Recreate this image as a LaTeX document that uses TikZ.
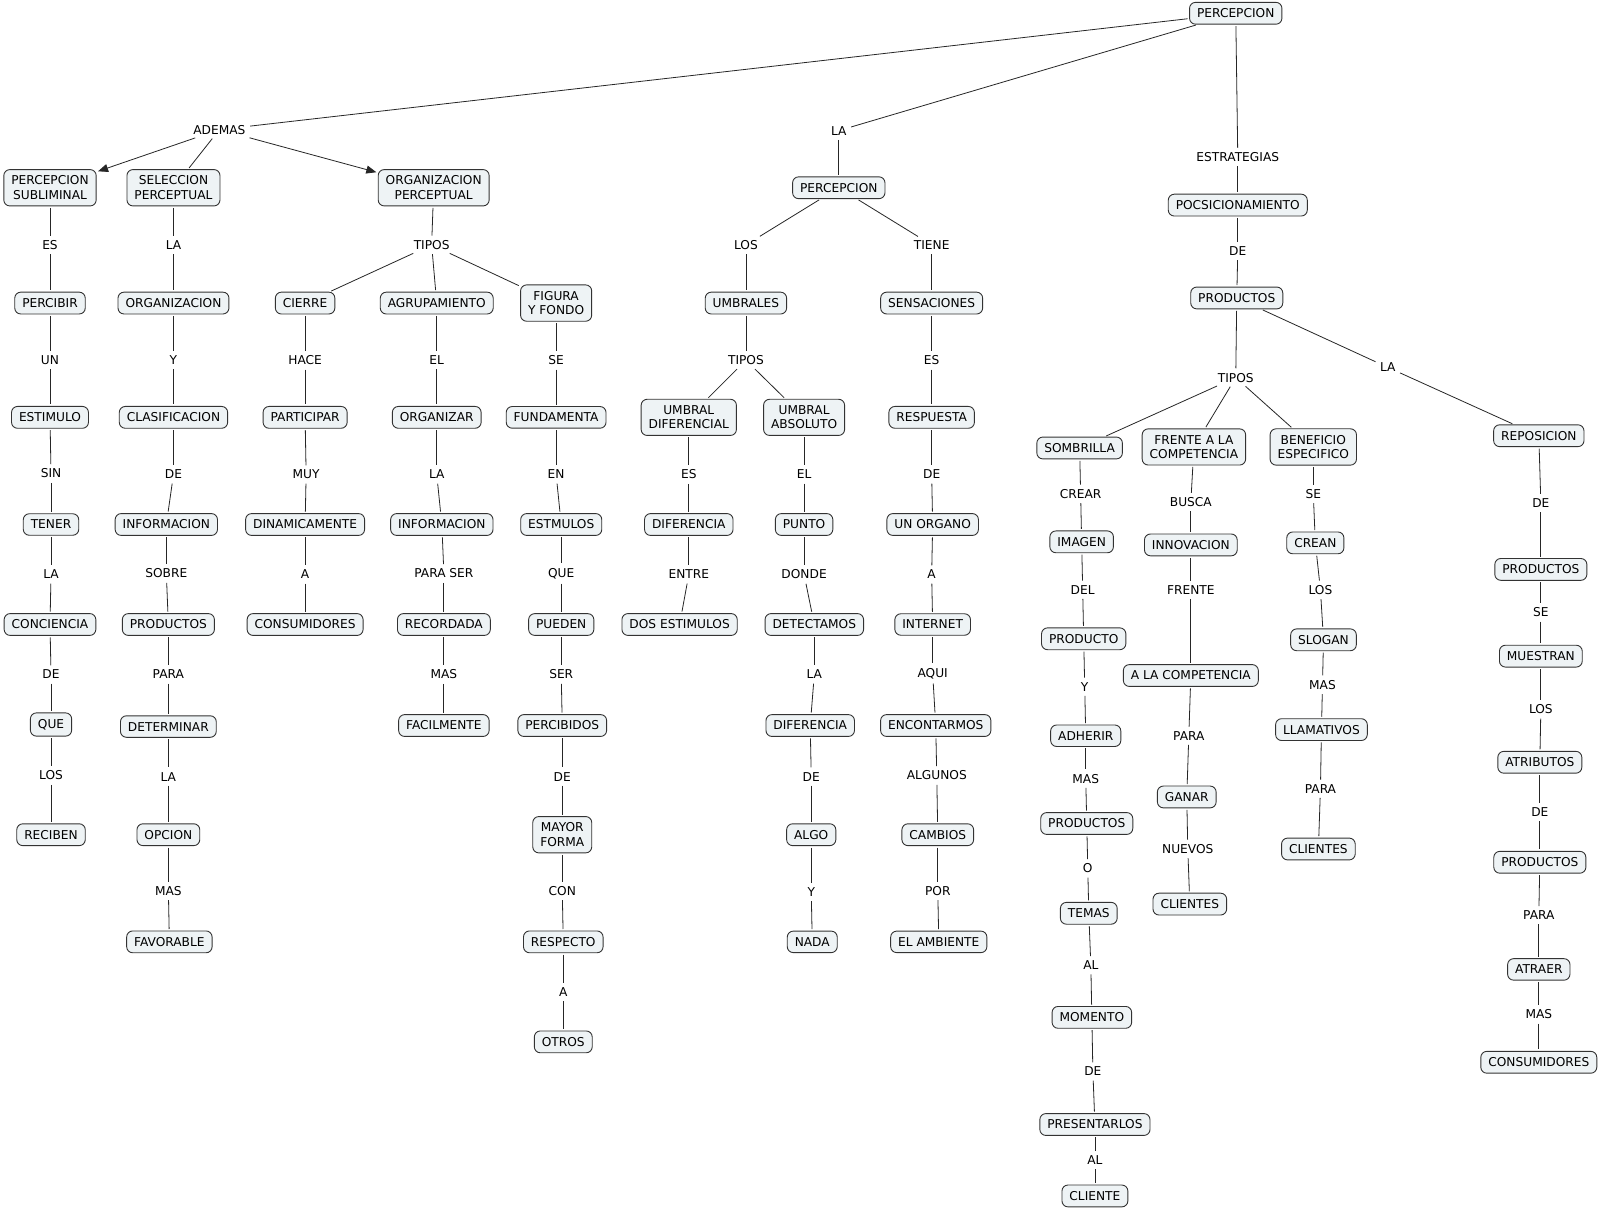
\documentclass[tikz,border=0pt]{standalone}
\usepackage{fontspec}
\setmainfont{DejaVu Sans}
\usetikzlibrary{arrows.meta}
\begin{document}
\begin{tikzpicture}[x=1.0204pt,y=-1.0204pt,
  every node/.style={font=\fontsize{12.2}{14.5}\selectfont,align=center},
  cpt/.style={draw=black!80,line width=0.9pt,fill={rgb,255:red,238;green,243;blue,245},rounded corners=6pt,inner xsep=7.5pt,inner ysep=6.3pt},
  lnk/.style={inner sep=3pt},
  ln/.style={draw=black!85,line width=0.8pt,shorten <=1.5pt,shorten >=1.5pt},
  arr/.style={ln,-{Triangle[length=10pt,width=8pt]}}]
\newcommand\Cn[4]{\node[cpt] (#1) at (#2,#3) {#4};}
\newcommand\Ln[4]{\node[lnk] (#1) at (#2,#3) {#4};}
\useasboundingbox[fill=white] (0,0) rectangle (1567,1185);
% top
\Cn{P0}{1211}{13}{PERCEPCION}
\Ln{ademas}{215}{127}{ADEMAS}
\Ln{la0}{822}{128}{LA}
\Ln{estr}{1213}{154}{ESTRATEGIAS}
\Cn{a0}{49}{184}{PERCEPCION\\SUBLIMINAL}
\Cn{b0}{170}{184}{SELECCION\\PERCEPTUAL}
\Cn{o0}{425}{184}{ORGANIZACION\\PERCEPTUAL}
\Cn{P2}{822}{184}{PERCEPCION}
\Cn{POCS}{1213}{201}{POCSICIONAMIENTO}
\Ln{deP}{1213}{246}{DE}
\Cn{PROD}{1212}{292}{PRODUCTOS}
% column a
\Ln{a1}{49}{240}{ES}
\Cn{a2}{49}{297}{PERCIBIR}
\Ln{a3}{49}{353}{UN}
\Cn{a4}{49}{409}{ESTIMULO}
\Ln{a5}{50}{464}{SIN}
\Cn{a6}{50}{514}{TENER}
\Ln{a7}{50}{563}{LA}
\Cn{a8}{49}{612}{CONCIENCIA}
\Ln{a9}{50}{661}{DE}
\Cn{a10}{50}{710}{QUE}
\Ln{a11}{50}{760}{LOS}
\Cn{a12}{50}{818}{RECIBEN}
% column b
\Ln{b1}{170}{240}{LA}
\Cn{b2}{170}{297}{ORGANIZACION}
\Ln{b3}{170}{353}{Y}
\Cn{b4}{170}{409}{CLASIFICACION}
\Ln{b5}{170}{465}{DE}
\Cn{b6}{163}{514}{INFORMACION}
\Ln{b7}{163}{562}{SOBRE}
\Cn{b8}{165}{612}{PRODUCTOS}
\Ln{b9}{165}{661}{PARA}
\Cn{b10}{165}{712}{DETERMINAR}
\Ln{b11}{165}{761}{LA}
\Cn{b12}{165}{818}{OPCION}
\Ln{b13}{165}{873}{MAS}
\Cn{b14}{166}{923}{FAVORABLE}
% OP
\Ln{ot}{423}{240}{TIPOS}
\Cn{c0}{299}{297}{CIERRE}
\Ln{c1}{299}{353}{HACE}
\Cn{c2}{299}{409}{PARTICIPAR}
\Ln{c3}{300}{465}{MUY}
\Cn{c4}{299}{514}{DINAMICAMENTE}
\Ln{c5}{299}{563}{A}
\Cn{c6}{299}{612}{CONSUMIDORES}
\Cn{d0}{428}{297}{AGRUPAMIENTO}
\Ln{d1}{428}{353}{EL}
\Cn{d2}{428}{409}{ORGANIZAR}
\Ln{d3}{428}{465}{LA}
\Cn{d4}{433}{514}{INFORMACION}
\Ln{d5}{435}{562}{PARA SER}
\Cn{d6}{435}{612}{RECORDADA}
\Ln{d7}{435}{661}{MAS}
\Cn{d8}{435}{711}{FACILMENTE}
\Cn{e0}{545}{297}{FIGURA\\Y FONDO}
\Ln{e1}{545}{353}{SE}
\Cn{e2}{545}{409}{FUNDAMENTA}
\Ln{e3}{545}{465}{EN}
\Cn{e4}{550}{514}{ESTMULOS}
\Ln{e5}{550}{562}{QUE}
\Cn{e6}{550}{612}{PUEDEN}
\Ln{e7}{550}{661}{SER}
\Cn{e8}{551}{711}{PERCIBIDOS}
\Ln{e9}{551}{761}{DE}
\Cn{e10}{551}{818}{MAYOR\\FORMA}
\Ln{e11}{551}{873}{CON}
\Cn{e12}{552}{923}{RESPECTO}
\Ln{e13}{552}{972}{A}
\Cn{e14}{552}{1021}{OTROS}
% P2
\Ln{fL}{731}{240}{LOS}
\Cn{f0}{731}{297}{UMBRALES}
\Ln{fT}{731}{353}{TIPOS}
\Cn{g0}{675}{409}{UMBRAL\\DIFERENCIAL}
\Ln{g1}{675}{465}{ES}
\Cn{g2}{675}{514}{DIFERENCIA}
\Ln{g3}{675}{563}{ENTRE}
\Cn{g4}{666}{612}{DOS ESTIMULOS}
\Cn{h0}{788}{409}{UMBRAL\\ABSOLUTO}
\Ln{h1}{788}{465}{EL}
\Cn{h2}{788}{514}{PUNTO}
\Ln{h3}{788}{563}{DONDE}
\Cn{h4}{798}{612}{DETECTAMOS}
\Ln{h5}{798}{661}{LA}
\Cn{h6}{794}{711}{DIFERENCIA}
\Ln{h7}{795}{761}{DE}
\Cn{h8}{795}{818}{ALGO}
\Ln{h9}{795}{874}{Y}
\Cn{h10}{796}{923}{NADA}
\Ln{iT}{913}{240}{TIENE}
\Cn{i0}{913}{297}{SENSACIONES}
\Ln{i1}{913}{353}{ES}
\Cn{i2}{913}{409}{RESPUESTA}
\Ln{i3}{913}{465}{DE}
\Cn{i4}{914}{514}{UN ORGANO}
\Ln{i5}{913}{563}{A}
\Cn{i6}{914}{612}{INTERNET}
\Ln{i7}{914}{660}{AQUI}
\Cn{i8}{917}{711}{ENCONTARMOS}
\Ln{i9}{918}{760}{ALGUNOS}
\Cn{i10}{919}{818}{CAMBIOS}
\Ln{i11}{919}{873}{POR}
\Cn{i12}{920}{923}{EL AMBIENTE}
% PRODUCTOS
\Ln{pT}{1211}{370}{TIPOS}
\Ln{pL}{1360}{360}{LA}
\Cn{j0}{1058}{439}{SOMBRILLA}
\Ln{j1}{1059}{484}{CREAR}
\Cn{j2}{1060}{531}{IMAGEN}
\Ln{j3}{1061}{578}{DEL}
\Cn{j4}{1062}{626}{PRODUCTO}
\Ln{j5}{1063}{673}{Y}
\Cn{j6}{1064}{721}{ADHERIR}
\Ln{j7}{1064}{763}{MAS}
\Cn{j8}{1065}{807}{PRODUCTOS}
\Ln{j9}{1066}{851}{O}
\Cn{j10}{1067}{895}{TEMAS}
\Ln{j11}{1069}{946}{AL}
\Cn{j12}{1070}{997}{MOMENTO}
\Ln{j13}{1071}{1050}{DE}
\Cn{j14}{1073}{1102}{PRESENTARLOS}
\Ln{j15}{1073}{1137}{AL}
\Cn{j16}{1073}{1172}{CLIENTE}
\Cn{k0}{1170}{438}{FRENTE A LA\\COMPETENCIA}
\Ln{k1}{1167}{492}{BUSCA}
\Cn{k2}{1167}{534}{INNOVACION}
\Ln{k3}{1167}{578}{FRENTE}
\Cn{k4}{1167}{662}{A LA COMPETENCIA}
\Ln{k5}{1165}{721}{PARA}
\Cn{k6}{1163}{781}{GANAR}
\Ln{k7}{1164}{832}{NUEVOS}
\Cn{k8}{1166}{886}{CLIENTES}
\Cn{m0}{1287}{438}{BENEFICIO\\ESPECIFICO}
\Ln{m1}{1287}{484}{SE}
\Cn{m2}{1289}{532}{CREAN}
\Ln{m3}{1294}{578}{LOS}
\Cn{m4}{1297}{627}{SLOGAN}
\Ln{m5}{1296}{671}{MAS}
\Cn{m6}{1295}{715}{LLAMATIVOS}
\Ln{m7}{1294}{773}{PARA}
\Cn{m8}{1292}{832}{CLIENTES}
\Cn{n0}{1508}{427}{REPOSICION}
\Ln{n1}{1510}{493}{DE}
\Cn{n2}{1510}{558}{PRODUCTOS}
\Ln{n3}{1510}{600}{SE}
\Cn{n4}{1510}{643}{MUESTRAN}
\Ln{n5}{1510}{695}{LOS}
\Cn{n6}{1509}{747}{ATRIBUTOS}
\Ln{n7}{1509}{796}{DE}
\Cn{n8}{1509}{845}{PRODUCTOS}
\Ln{n9}{1508}{897}{PARA}
\Cn{n10}{1508}{950}{ATRAER}
\Ln{n11}{1508}{994}{MAS}
\Cn{n12}{1508}{1041}{CONSUMIDORES}
% connectors
\foreach \a/\b in {P0/ademas,P0/la0,P0/estr,ademas/b0,la0/P2,estr/POCS,POCS/deP,deP/PROD,
  o0/ot,ot/c0,ot/d0,ot/e0,P2/fL,fL/f0,f0/fT,fT/g0,fT/h0,P2/iT,iT/i0,
  PROD/pT,pT/j0,pT/k0,pT/m0,PROD/pL,pL/n0}
  \draw[ln] (\a) -- (\b);
\draw[arr] (ademas) -- (a0);
\draw[arr] (ademas) -- (o0);
\foreach \p/\nn in {a/11,b/13,c/5,d/7,e/13,g/3,h/9,i/11,j/15,k/7,m/7,n/11}{
  \foreach \i in {0,...,\nn}{
    \pgfmathtruncatemacro\jj{\i+1}
    \draw[ln] (\p\i) -- (\p\jj);
  }
}
\end{tikzpicture}
\end{document}
